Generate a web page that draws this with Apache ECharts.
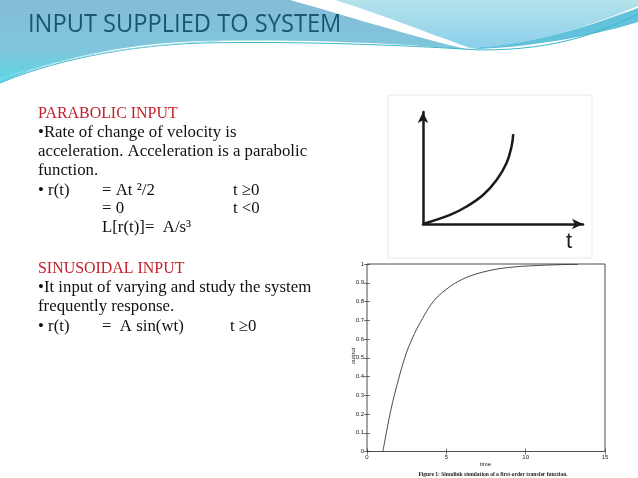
<!DOCTYPE html>
<html><head><meta charset="utf-8">
<script src="https://cdn.jsdelivr.net/npm/echarts@6/dist/echarts.min.js"></script>
<style>html,body{margin:0;padding:0;background:#fff;}#c{width:638px;height:478px;}</style>
</head><body><div id="c"></div>
<script>
// Step response (Simulink first-order)
const respT = [1, 1.5, 2, 2.5, 3, 3.5, 4, 4.5, 5, 5.5, 6, 6.5, 7, 7.5, 8, 8.5, 9, 9.5, 10, 11, 12, 13, 13.3];
const respY = [0, 0.22, 0.39, 0.53, 0.63, 0.71, 0.78, 0.83, 0.865, 0.895, 0.918, 0.936, 0.95, 0.961, 0.97, 0.977, 0.982, 0.986, 0.989, 0.993, 0.996, 0.998, 0.998];
const respXTicks = [0, 5, 10, 15];
const respYTicks = [0, 0.1, 0.2, 0.3, 0.4, 0.5, 0.6, 0.7, 0.8, 0.9, 1];
// Parabolic input sketch curve
const paraX = [0, 1.69, 2.73, 3.77, 4.61, 5.23, 5.54, 5.64];
const paraY = [0, 0.81, 1.56, 2.61, 3.96, 5.47, 6.97, 8.02];

const chart = echarts.init(document.getElementById('c'));
const serif = '"Liberation Serif", serif';

// decoration helper: sample a path made of points and cubic segments
function pathPts(start, segs) {
  const pts = [start.slice()];
  let p0 = start;
  segs.forEach(s => {
    if (s.length === 2) { pts.push(s.slice()); p0 = s; return; }
    const [c1x, c1y, c2x, c2y, ex, ey] = s;
    for (let i = 1; i <= 16; i++) {
      const t = i / 16, u = 1 - t;
      pts.push([
        u * u * u * p0[0] + 3 * u * u * t * c1x + 3 * u * t * t * c2x + t * t * t * ex,
        u * u * u * p0[1] + 3 * u * u * t * c1y + 3 * u * t * t * c2y + t * t * t * ey
      ]);
    }
    p0 = [ex, ey];
  });
  return pts;
}
function txt(x, y, s, opt) {
  opt = opt || {};
  return {
    type: 'text', x: x, y: y, scaleX: opt.sx || 1, z: 50,
    rotation: opt.rot || 0,
    style: {
      text: s, fill: opt.fill || '#111',
      font: (opt.weight || 'normal') + ' ' + (opt.size || 17.5) + 'px ' + (opt.family || serif),
      align: opt.align || 'left', verticalAlign: 'middle'
    }
  };
}
const SX = 0.96, HX = 0.91;
const graphics = [
  { type: 'polygon', z: 1, shape: { points: pathPts([0, 0], [[290, 0], [340, 14, 410, 36, 470, 50], [400, 43, 300, 39, 200, 41], [120, 44, 50, 60, 0, 83]]) },
    style: { fill: new echarts.graphic.LinearGradient(0, 0, 0, 1, [{ offset: 0, color: '#84bcd6' }, { offset: 0.6, color: '#7fc6dc' }, { offset: 1, color: '#5ad6e4' }]) } },
  { type: 'polygon', z: 1, shape: { points: pathPts([335, 0], [[638, 0], [638, 6], [600, 22, 540, 44, 470, 48], [420, 30, 380, 14, 335, 0]]) },
    style: { fill: new echarts.graphic.LinearGradient(0, 0, 0, 1, [{ offset: 0, color: '#b4e3ea' }, { offset: 1, color: '#8ccfea' }]) } },
  { type: 'polygon', z: 1, shape: { points: pathPts([470, 48], [[540, 44, 600, 22, 638, 8], [638, 22], [600, 34, 540, 46, 480, 49]]) },
    style: { fill: '#62c2dc' } },
  { type: 'polyline', z: 2, shape: { points: pathPts([0, 83], [[50, 62, 120, 46, 200, 43], [300, 41, 400, 45, 480, 50], [560, 50, 600, 32, 638, 14]]) },
    style: { fill: 'none', stroke: '#3cb8cc', lineWidth: 1 } },
  { type: 'polyline', z: 2, shape: { points: pathPts([0, 79], [[60, 58, 130, 45, 220, 41]]) },
    style: { fill: 'none', stroke: '#9adbe6', lineWidth: 0.8 } },
  { type: 'rect', z: 1, shape: { x: 388, y: 95, width: 204, height: 163 }, style: { fill: 'none', stroke: '#e8e8e8', lineWidth: 1 } },
  txt(28, 25, 'INPUT SUPPLIED TO SYSTEM', { size: 26, family: '"Open Sans", sans-serif', fill: '#1b5670', sx: 0.91 }),
  txt(38, 113, 'PARABOLIC INPUT', { fill: '#c4202b', sx: HX }),
  txt(38, 132.5, '•Rate of change of velocity is', { sx: SX }),
  txt(38, 151, 'acceleration. Acceleration is a parabolic', { sx: SX }),
  txt(38, 170, 'function.', { sx: SX }),
  txt(38, 190, '• r(t)', { sx: SX }),
  txt(102, 190, '= At ²/2', { sx: SX }),
  txt(233, 190, 't ≥0', { sx: SX }),
  txt(102, 208, '= 0', { sx: SX }),
  txt(233, 208, 't <0', { sx: SX }),
  txt(102, 227, 'L[r(t)]=  A/s³', { sx: SX }),
  txt(38, 268, 'SINUSOIDAL INPUT', { fill: '#c4202b', sx: HX }),
  txt(38, 287, '•It input of varying and study the system', { sx: SX }),
  txt(38, 306, 'frequently response.', { sx: SX }),
  txt(38, 326, '• r(t)', { sx: SX }),
  txt(102, 326, '=  A sin(wt)', { sx: SX }),
  txt(230, 326, 't ≥0', { sx: SX }),
  txt(566, 242, 't', { size: 22, family: '"Liberation Sans", sans-serif', fill: '#222' }),
  txt(485.5, 464, 'time', { size: 6, family: '"Liberation Sans", sans-serif', align: 'center', fill: '#222' }),
  txt(353, 356, 'output', { size: 6, family: '"Liberation Sans", sans-serif', align: 'center', fill: '#222', rot: Math.PI / 2 }),
  txt(493, 475, 'Figure 1: Simulink simulation of a first-order transfer function.', { size: 5.5, weight: 'bold', align: 'center', fill: '#222' })
];

const tickFont = { fontSize: 6, color: '#222', fontFamily: '"Liberation Sans", sans-serif' };
chart.setOption({
  animation: false,
  backgroundColor: '#ffffff',
  graphic: { elements: graphics },
  grid: [
    { left: 367, top: 264, width: 238, height: 187.5, show: true, borderColor: '#222', borderWidth: 0.8, backgroundColor: 'transparent' },
    { left: 423, top: 112, width: 160, height: 112 }
  ],
  xAxis: [
    { type: 'value', gridIndex: 0, min: respXTicks[0], max: respXTicks[respXTicks.length - 1], interval: 5,
      axisLine: { show: false }, axisTick: { inside: true, length: 3, lineStyle: { color: '#222', width: 0.6 } },
      axisLabel: Object.assign({ margin: 3 }, tickFont), splitLine: { show: false } },
    { type: 'value', gridIndex: 0, position: 'top', min: 0, max: 15, interval: 5,
      axisLine: { show: false }, axisTick: { inside: true, length: 3, lineStyle: { color: '#222', width: 0.6 } },
      axisLabel: { show: false }, splitLine: { show: false } },
    { type: 'value', gridIndex: 1, min: 0, max: 10,
      axisLine: { show: true, symbol: ['none', 'arrow'], symbolSize: [8, 11], lineStyle: { color: '#1a1a1a', width: 2.5 } },
      axisTick: { show: false }, axisLabel: { show: false }, splitLine: { show: false } }
  ],
  yAxis: [
    { type: 'value', gridIndex: 0, min: respYTicks[0], max: respYTicks[respYTicks.length - 1], interval: 0.1,
      axisLine: { show: false }, axisTick: { inside: true, length: 3, lineStyle: { color: '#222', width: 0.6 } },
      axisLabel: Object.assign({ margin: 3, formatter: v => String(+v.toFixed(1)) }, tickFont), splitLine: { show: false } },
    { type: 'value', gridIndex: 0, position: 'right', min: 0, max: 1, interval: 0.1,
      axisLine: { show: false }, axisTick: { inside: true, length: 3, lineStyle: { color: '#222', width: 0.6 } },
      axisLabel: { show: false }, splitLine: { show: false } },
    { type: 'value', gridIndex: 1, min: 0, max: 10,
      axisLine: { show: true, symbol: ['none', 'arrow'], symbolSize: [8, 11], lineStyle: { color: '#1a1a1a', width: 2.5 } },
      axisTick: { show: false }, axisLabel: { show: false }, splitLine: { show: false } }
  ],
  series: [
    { type: 'line', xAxisIndex: 0, yAxisIndex: 0, showSymbol: false, smooth: 0.3,
      data: respT.map((t, i) => [t, respY[i]]), lineStyle: { color: '#333', width: 0.9 } },
    { type: 'line', xAxisIndex: 2, yAxisIndex: 2, showSymbol: false, smooth: 0.4,
      data: paraX.map((x, i) => [x, paraY[i]]), lineStyle: { color: '#1a1a1a', width: 2.5 } }
  ]
});
</script></body></html>
